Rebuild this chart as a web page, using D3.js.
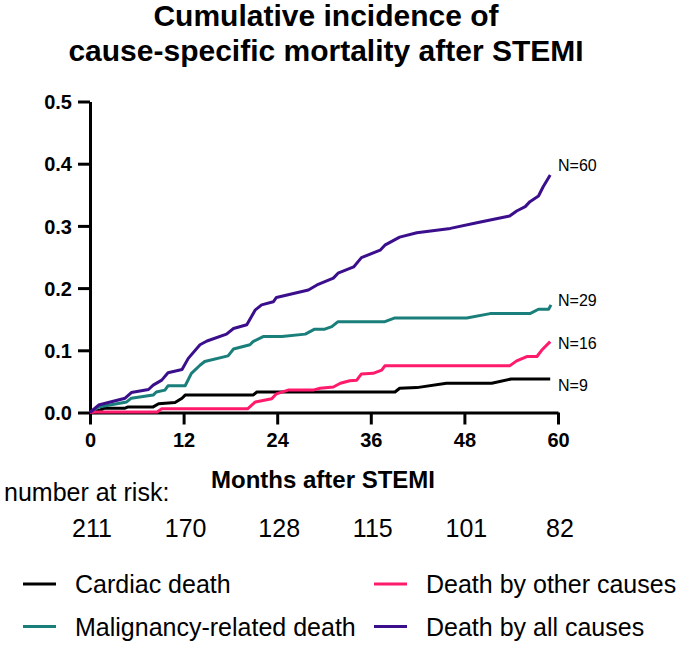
<!DOCTYPE html>
<html>
<head>
<meta charset="utf-8">
<script src="https://cdn.jsdelivr.net/npm/d3@7"></script>
<style>
  html, body { margin: 0; padding: 0; background: #fff; }
  svg { display: block; font-family: "Liberation Sans", Arial, sans-serif; }
</style>
</head>
<body>
<svg id="chart" width="685" height="645"></svg>
<script>
// ---- Data (months after STEMI, cumulative incidence) ----
const cardiac = [[0,0],[1.3,0.004],[1.9,0.007],[4.5,0.007],[4.9,0.009],[8.1,0.009],[8.8,0.014],[10.9,0.016],[11.8,0.023],[12.2,0.028],[20.9,0.028],[21.4,0.033],[39.1,0.033],[39.7,0.039],[41.9,0.040],[45.7,0.047],[51.5,0.047],[54.0,0.054],[59.0,0.054]];
const malignancy = [[0,0],[1.1,0.009],[4.7,0.017],[5.3,0.023],[8.1,0.028],[8.5,0.033],[9.6,0.036],[10.0,0.043],[12.2,0.043],[13.0,0.063],[14.1,0.076],[14.7,0.082],[17.7,0.091],[18.4,0.102],[20.5,0.109],[20.9,0.114],[22.2,0.122],[24.6,0.122],[27.6,0.126],[28.8,0.134],[30.1,0.134],[31.0,0.138],[31.8,0.146],[37.8,0.146],[39.1,0.152],[48.3,0.152],[51.3,0.159],[56.4,0.159],[57.5,0.166],[58.8,0.166],[59.1,0.173]];
const otherCauses = [[0,0],[1.0,0.001],[8.6,0.001],[9.2,0.006],[20.2,0.006],[21.2,0.017],[23.3,0.022],[23.9,0.030],[25.4,0.036],[28.6,0.036],[29.5,0.039],[31.2,0.041],[32.1,0.047],[33.3,0.051],[34.2,0.052],[34.8,0.062],[36.3,0.063],[37.4,0.068],[37.8,0.075],[53.8,0.075],[54.7,0.083],[56.0,0.090],[57.3,0.090],[57.9,0.100],[59.0,0.114]];
const allCauses = [[0,0],[1.1,0.012],[4.5,0.023],[5.3,0.032],[7.5,0.037],[8.1,0.044],[9.2,0.052],[10.0,0.064],[11.8,0.069],[12.6,0.087],[14.1,0.109],[15.0,0.115],[17.5,0.126],[18.4,0.135],[20.1,0.141],[21.2,0.165],[22.0,0.173],[23.5,0.178],[23.9,0.185],[28.0,0.197],[29.1,0.205],[31.2,0.216],[31.8,0.224],[33.8,0.234],[34.8,0.249],[37.2,0.261],[37.8,0.269],[39.7,0.282],[41.9,0.289],[46.2,0.296],[49.6,0.305],[53.8,0.316],[54.7,0.324],[55.8,0.331],[56.4,0.339],[57.5,0.348],[58.1,0.363],[59.0,0.382]];

const seriesNames = ["Cardiac death", "Malignancy-related death", "Death by other causes", "Death by all causes"];
const seriesColors = ["#000000", "#1a7f7b", "#ff1a6b", "#3b0f8c"];
const endLabels = ["N=9", "N=29", "N=16", "N=60"];
const endLabelValues = [0.044, 0.180, 0.112, 0.398];

const xTicks = [0, 12, 24, 36, 48, 60];
const yTicks = [0.0, 0.1, 0.2, 0.3, 0.4, 0.5];
const atRisk = [211, 170, 128, 115, 101, 82];

const titleLines = ["Cumulative incidence of", "cause-specific mortality after STEMI"];
const xTitle = "Months after STEMI";
const riskTitle = "number at risk:";

// ---- Drawing ----
const svg = d3.select("#chart");
const x = d3.scaleLinear().domain([0, 60]).range([90, 558]);
const y = d3.scaleLinear().domain([0, 0.5]).range([412.5, 101.5]);

// title
svg.append("g").selectAll("text").data(titleLines).join("text")
  .attr("x", 326).attr("y", (d, i) => 26 + i * 35)
  .attr("text-anchor", "middle")
  .attr("font-size", 30).attr("font-weight", "bold").attr("fill", "#000")
  .text(d => d);

// axes
const yAxis = d3.axisLeft(y).tickValues(yTicks).tickFormat(d3.format(".1f")).tickSize(12).tickSizeOuter(0).tickPadding(6);
const xAxis = d3.axisBottom(x).tickValues(xTicks).tickFormat(d3.format("d")).tickSize(12).tickSizeOuter(0).tickPadding(8);

const gy = svg.append("g").attr("transform", "translate(90,0)").call(yAxis);
const gx = svg.append("g").attr("transform", "translate(0,412.5)").call(xAxis);
[gx, gy].forEach(g => {
  g.select(".domain").attr("stroke", "#000").attr("stroke-width", 3);
  g.selectAll(".tick line").attr("stroke", "#000").attr("stroke-width", 3);
  g.selectAll(".tick text").attr("fill", "#000")
    .attr("font-size", 20).attr("font-weight", "bold")
    .attr("font-family", "'Liberation Sans', Arial, sans-serif");
});
gy.selectAll(".tick text").attr("dy", "0.36em");

// lines (on top of axes)
const line = d3.line().x(d => x(d[0])).y(d => y(d[1])).curve(d3.curveLinear);
const allSeries = [cardiac, malignancy, otherCauses, allCauses];
svg.append("g").selectAll("path").data(allSeries).join("path")
  .attr("d", line)
  .attr("fill", "none")
  .attr("stroke", (d, i) => seriesColors[i])
  .attr("stroke-width", 3)
  .attr("stroke-linejoin", "round");

// end labels
svg.append("g").selectAll("text").data(endLabels).join("text")
  .attr("x", 558)
  .attr("y", (d, i) => y(endLabelValues[i]))
  .attr("dy", "0.36em")
  .attr("font-size", 16).attr("fill", "#000")
  .text(d => d);

// x axis title
svg.append("text").attr("x", 323).attr("y", 488)
  .attr("text-anchor", "middle")
  .attr("font-size", 24).attr("font-weight", "bold").attr("fill", "#000")
  .text(xTitle);

// number at risk
svg.append("text").attr("x", 4).attr("y", 501)
  .attr("font-size", 25).attr("fill", "#000")
  .text(riskTitle);
svg.append("g").selectAll("text").data(atRisk).join("text")
  .attr("x", (d, i) => x(xTicks[i]) + 2)
  .attr("y", 537)
  .attr("text-anchor", "middle")
  .attr("font-size", 25).attr("fill", "#000")
  .text(d => d);

// legend (row-wise: cardiac, other / malignancy, all)
const legendOrder = [0, 2, 1, 3];
const legend = svg.append("g").selectAll("g").data(legendOrder).join("g")
  .attr("transform", (d, k) => `translate(${(k % 2) * 351},${Math.floor(k / 2) * 42.5})`);
legend.append("line")
  .attr("x1", 23).attr("x2", 56).attr("y1", 584).attr("y2", 584)
  .attr("stroke", d => seriesColors[d]).attr("stroke-width", 3);
legend.append("text")
  .attr("x", 75).attr("y", 593)
  .attr("font-size", 25).attr("fill", "#000")
  .text(d => seriesNames[d]);
</script>
</body>
</html>
